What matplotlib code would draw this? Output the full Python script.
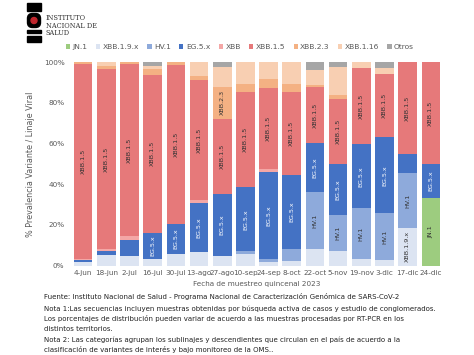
import matplotlib
matplotlib.use("Agg")
import matplotlib.pyplot as plt
import numpy as np
from matplotlib.patches import Rectangle, Circle, FancyBboxPatch

plt.rcParams['font.family'] = ['DejaVu Sans']

dates = ["4-jun", "18-jun", "2-jul", "16-jul", "30-jul", "13-ago", "27-ago", "10-sep",
         "24-sep", "8-oct", "22-oct", "5-nov", "19-nov", "3-dic", "17-dic", "24-dic"]

series_names = ["JN.1", "XBB.1.9.x", "HV.1", "EG.5.x", "XBB", "XBB.1.5", "XBB.2.3", "XBB.1.16", "Otros"]

jn1      = [0, 0, 0, 0, 0, 0, 0, 0, 0, 0, 0, 0, 0, 0, 0, 33.4]
xbb19x   = [1.5, 5.2, 4.8, 3.1, 5.7, 6.6, 4.8, 5.6, 1.6, 2.3, 8.2, 6.9, 3.3, 2.8, 18.4, 0]
hv1      = [0, 0, 0, 0, 0, 0, 0, 1.3, 1.6, 5.9, 27.9, 18.0, 24.9, 23.0, 27.0, 0]
eg5x     = [1.0, 2.0, 7.9, 13.1, 14.8, 24.1, 30.3, 31.6, 43.0, 36.4, 24.1, 25.1, 31.5, 37.2, 9.3, 16.6]
xbb      = [0.5, 0.8, 2.0, 0, 0, 1.3, 0, 0, 1.3, 0, 0, 0, 0, 0, 0, 0]
xbb15    = [96.0, 88.7, 84.4, 77.5, 78.2, 59.3, 37.0, 47.0, 40.0, 41.0, 27.5, 31.8, 37.4, 31.3, 45.3, 50.0]
xbb23    = [1.0, 1.5, 0.9, 3.0, 1.3, 2.1, 15.9, 3.6, 4.3, 3.6, 1.0, 2.1, 0, 0, 0, 0]
xbb116   = [0, 1.8, 0, 1.7, 0, 6.6, 9.5, 10.9, 8.2, 10.8, 7.5, 14.0, 3.0, 3.1, 0, 0]
otros    = [0, 0, 0, 1.6, 0, 0, 2.5, 0, 0, 0, 3.8, 2.1, 0, 2.6, 0, 0]

series_values = [jn1, xbb19x, hv1, eg5x, xbb, xbb15, xbb23, xbb116, otros]
colors = ["#9DCC7F", "#DCE4F2", "#8EAADB", "#4472C4", "#F4A7A6", "#E6797A",
          "#F4B183", "#F8CFB2", "#A6A6A6"]
label_colors = ["#333333", "#333333", "#333333", "white", "#333333", "#333333",
                "#333333", "#333333", "#333333"]
labelled = ["JN.1", "XBB.1.9.x", "HV.1", "EG.5.x", "XBB.1.5", "XBB.2.3"]

footnote_lines = [
    "Fuente: Instituto Nacional de Salud - Programa Nacional de Caracterización Genómica de SARS-CoV-2",
    "Nota 1:Las secuencias incluyen muestras obtenidas por búsqueda activa de casos y estudio de conglomerados.",
    "Los porcentajes de distribución pueden variar de acuerdo a las muestras procesadas por RT-PCR en los",
    "distintos territorios.",
    "Nota 2: Las categorías agrupan los sublinajes y descendientes que circulan en el país de acuerdo a la",
    "clasificación de variantes de interés y bajo monitoreo de la OMS..",
]

W, H = 474, 355
fig = plt.figure(figsize=(W / 100, H / 100), dpi=100)
fig.patch.set_facecolor("white")

ax = fig.add_axes([70 / W, 1 - 265.5 / H, (444 - 70) / W, (265.5 - 62.3) / H])
x = np.arange(len(dates))
bottom = np.zeros(len(dates))
for name, vals, col, lc in zip(series_names, series_values, colors, label_colors):
    vals = np.array(vals, dtype=float)
    ax.bar(x, vals, bottom=bottom, width=0.8, color=col, label=name, linewidth=0)
    if name in labelled:
        for i, v in enumerate(vals):
            if v >= 10:
                ax.text(x[i], bottom[i] + v / 2, name, rotation=90, ha="center", va="center",
                        fontsize=4.6, color=lc)
    bottom += vals

ax.set_xlim(-0.57, len(dates) - 0.43)
ax.set_ylim(0, 100)
ax.set_yticks([0, 20, 40, 60, 80, 100])
ax.set_yticklabels([f"{v}%" for v in [0, 20, 40, 60, 80, 100]])
ax.set_xticks(x)
ax.set_xticklabels(dates)
ax.tick_params(axis="both", length=0, labelsize=5.2, colors="#595959")
ax.tick_params(axis="y", pad=4)
ax.tick_params(axis="x", pad=3)
for s in ax.spines.values():
    s.set_visible(False)
ax.set_ylabel("% Prevalencia Variante / Linaje Viral", fontsize=5.8, color="#595959", labelpad=6)
ax.set_xlabel("Fecha de muestreo quincenal 2023", fontsize=5.2, color="#595959", labelpad=4)

# Legend
handles, labels = ax.get_legend_handles_labels()
fig.legend(handles, labels, loc="center", bbox_to_anchor=(240 / W, 1 - 47 / H), ncol=9,
           frameon=False, fontsize=5.4, handlelength=0.55, handleheight=0.55,
           handletextpad=0.35, columnspacing=1.1, labelcolor="#595959")

# Logo
lax = fig.add_axes([0, 0, 1, 1], facecolor="none")
lax.set_xlim(0, W)
lax.set_ylim(H, 0)
lax.axis("off")
lax.add_patch(Rectangle((27, 3), 14, 8, color="black"))
lax.add_patch(FancyBboxPatch((27.5, 13.5), 13, 14, boxstyle="round,pad=0,rounding_size=5", color="black"))
lax.add_patch(Circle((34, 20.5), 3.0, color="#C0262D"))
lax.add_patch(Rectangle((27, 30), 14, 2.5, color="black"))
lax.add_patch(Rectangle((27, 36), 14, 6, color="black"))
for i, t in enumerate(["INSTITUTO", "NACIONAL DE", "SALUD"]):
    lax.text(46, 18 + i * 7.5, t, fontsize=4.8, family="DejaVu Serif", va="center",
             ha="left", color="#333333")

# Footnotes
y0 = 297
for i, line in enumerate(footnote_lines):
    lax.text(44, y0 + i * 10.3 + (0 if i == 0 else 1.2), line, fontsize=5.05, va="center",
             ha="left", color="#222222")

fig.savefig("out.png", dpi=100, facecolor="white")
